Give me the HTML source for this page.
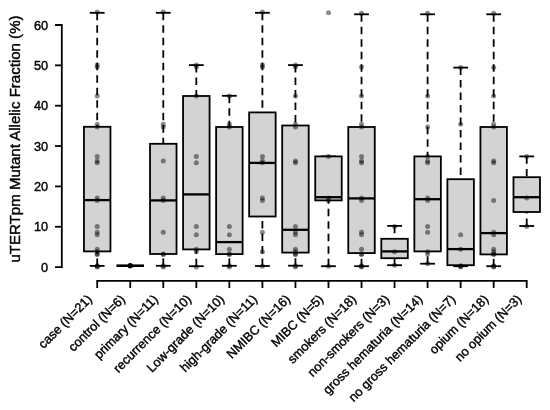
<!DOCTYPE html>
<html><head><meta charset="utf-8"><title>uTERTpm Mutant Allelic Fraction</title>
<style>html,body{margin:0;padding:0;background:#fff}svg{display:block}text{font-family:"Liberation Sans",sans-serif;fill:#000;stroke:#000;stroke-width:0.4px}</style></head><body>
<svg width="550" height="410" viewBox="0 0 550 410">
<rect width="550" height="410" fill="#fff"/>
<g transform="translate(0 0.4)">
<g fill="none" stroke="#000" stroke-width="1.8">
<line x1="97.20" y1="12.4" x2="97.20" y2="126.4" stroke-dasharray="7.4 5.1"/>
<line x1="97.20" y1="265.5" x2="97.20" y2="251.0" stroke-dasharray="7.4 5.1"/>
<line x1="89.80" y1="12.4" x2="104.60" y2="12.4"/>
<line x1="89.80" y1="265.5" x2="104.60" y2="265.5"/>
<rect x="83.95" y="126.4" width="26.50" height="124.60" fill="#d3d3d3"/>
<line x1="83.95" y1="199.7" x2="110.45" y2="199.7" stroke-width="2.3"/>
<line x1="116.44" y1="265.3" x2="144.04" y2="265.3" stroke-width="2.6"/>
<line x1="163.28" y1="12.4" x2="163.28" y2="143.4" stroke-dasharray="7.4 5.1"/>
<line x1="163.28" y1="265.4" x2="163.28" y2="253.6" stroke-dasharray="7.4 5.1"/>
<line x1="155.88" y1="12.4" x2="170.68" y2="12.4"/>
<line x1="155.88" y1="265.4" x2="170.68" y2="265.4"/>
<rect x="150.03" y="143.4" width="26.50" height="110.20" fill="#d3d3d3"/>
<line x1="150.03" y1="200.0" x2="176.53" y2="200.0" stroke-width="2.3"/>
<line x1="196.32" y1="64.7" x2="196.32" y2="95.6" stroke-dasharray="7.4 5.1"/>
<line x1="196.32" y1="265.8" x2="196.32" y2="249.0" stroke-dasharray="7.4 5.1"/>
<line x1="188.92" y1="64.7" x2="203.72" y2="64.7"/>
<line x1="188.92" y1="265.8" x2="203.72" y2="265.8"/>
<rect x="183.07" y="95.6" width="26.50" height="153.40" fill="#d3d3d3"/>
<line x1="183.07" y1="194.0" x2="209.57" y2="194.0" stroke-width="2.3"/>
<line x1="229.36" y1="95.4" x2="229.36" y2="126.6" stroke-dasharray="7.4 5.1"/>
<line x1="229.36" y1="265.4" x2="229.36" y2="253.7" stroke-dasharray="7.4 5.1"/>
<line x1="221.96" y1="95.4" x2="236.76" y2="95.4"/>
<line x1="221.96" y1="265.4" x2="236.76" y2="265.4"/>
<rect x="216.11" y="126.6" width="26.50" height="127.10" fill="#d3d3d3"/>
<line x1="216.11" y1="241.7" x2="242.61" y2="241.7" stroke-width="2.3"/>
<line x1="262.40" y1="12.4" x2="262.40" y2="112.0" stroke-dasharray="7.4 5.1"/>
<line x1="262.40" y1="265.6" x2="262.40" y2="216.1" stroke-dasharray="7.4 5.1"/>
<line x1="255.00" y1="12.4" x2="269.80" y2="12.4"/>
<line x1="255.00" y1="265.6" x2="269.80" y2="265.6"/>
<rect x="249.15" y="112.0" width="26.50" height="104.10" fill="#d3d3d3"/>
<line x1="249.15" y1="162.5" x2="275.65" y2="162.5" stroke-width="2.3"/>
<line x1="295.44" y1="64.7" x2="295.44" y2="125.1" stroke-dasharray="7.4 5.1"/>
<line x1="295.44" y1="265.3" x2="295.44" y2="252.2" stroke-dasharray="7.4 5.1"/>
<line x1="288.04" y1="64.7" x2="302.84" y2="64.7"/>
<line x1="288.04" y1="265.3" x2="302.84" y2="265.3"/>
<rect x="282.19" y="125.1" width="26.50" height="127.10" fill="#d3d3d3"/>
<line x1="282.19" y1="229.4" x2="308.69" y2="229.4" stroke-width="2.3"/>
<line x1="328.48" y1="265.8" x2="328.48" y2="200.0" stroke-dasharray="7.4 5.1"/>
<line x1="321.08" y1="156.0" x2="335.88" y2="156.0"/>
<line x1="321.08" y1="265.8" x2="335.88" y2="265.8"/>
<rect x="315.23" y="156.0" width="26.50" height="44.00" fill="#d3d3d3"/>
<line x1="315.23" y1="196.8" x2="341.73" y2="196.8" stroke-width="2.3"/>
<line x1="361.52" y1="13.9" x2="361.52" y2="126.6" stroke-dasharray="7.4 5.1"/>
<line x1="361.52" y1="265.8" x2="361.52" y2="252.7" stroke-dasharray="7.4 5.1"/>
<line x1="354.12" y1="13.9" x2="368.92" y2="13.9"/>
<line x1="354.12" y1="265.8" x2="368.92" y2="265.8"/>
<rect x="348.27" y="126.6" width="26.50" height="126.10" fill="#d3d3d3"/>
<line x1="348.27" y1="198.0" x2="374.77" y2="198.0" stroke-width="2.3"/>
<line x1="394.56" y1="225.5" x2="394.56" y2="238.4" stroke-dasharray="7.4 5.1"/>
<line x1="394.56" y1="264.8" x2="394.56" y2="257.8" stroke-dasharray="7.4 5.1"/>
<line x1="387.16" y1="225.5" x2="401.96" y2="225.5"/>
<line x1="387.16" y1="264.8" x2="401.96" y2="264.8"/>
<rect x="381.31" y="238.4" width="26.50" height="19.40" fill="#d3d3d3"/>
<line x1="381.31" y1="251.0" x2="407.81" y2="251.0" stroke-width="2.3"/>
<line x1="427.60" y1="13.9" x2="427.60" y2="156.0" stroke-dasharray="7.4 5.1"/>
<line x1="427.60" y1="263.3" x2="427.60" y2="251.0" stroke-dasharray="7.4 5.1"/>
<line x1="420.20" y1="13.9" x2="435.00" y2="13.9"/>
<line x1="420.20" y1="263.3" x2="435.00" y2="263.3"/>
<rect x="414.35" y="156.0" width="26.50" height="95.00" fill="#d3d3d3"/>
<line x1="414.35" y1="198.8" x2="440.85" y2="198.8" stroke-width="2.3"/>
<line x1="460.64" y1="67.2" x2="460.64" y2="178.8" stroke-dasharray="7.4 5.1"/>
<line x1="460.64" y1="265.8" x2="460.64" y2="264.8" stroke-dasharray="7.4 5.1"/>
<line x1="453.24" y1="67.2" x2="468.04" y2="67.2"/>
<line x1="453.24" y1="265.8" x2="468.04" y2="265.8"/>
<rect x="447.39" y="178.8" width="26.50" height="86.00" fill="#d3d3d3"/>
<line x1="447.39" y1="248.7" x2="473.89" y2="248.7" stroke-width="2.3"/>
<line x1="493.68" y1="13.9" x2="493.68" y2="126.6" stroke-dasharray="7.4 5.1"/>
<line x1="493.68" y1="265.8" x2="493.68" y2="254.0" stroke-dasharray="7.4 5.1"/>
<line x1="486.28" y1="13.9" x2="501.08" y2="13.9"/>
<line x1="486.28" y1="265.8" x2="501.08" y2="265.8"/>
<rect x="480.43" y="126.6" width="26.50" height="127.40" fill="#d3d3d3"/>
<line x1="480.43" y1="232.7" x2="506.93" y2="232.7" stroke-width="2.3"/>
<line x1="526.72" y1="156.0" x2="526.72" y2="176.8" stroke-dasharray="7.4 5.1"/>
<line x1="526.72" y1="225.6" x2="526.72" y2="211.6" stroke-dasharray="7.4 5.1"/>
<line x1="519.32" y1="156.0" x2="534.12" y2="156.0"/>
<line x1="519.32" y1="225.6" x2="534.12" y2="225.6"/>
<rect x="513.47" y="176.8" width="26.50" height="34.80" fill="#d3d3d3"/>
<line x1="513.47" y1="196.8" x2="539.97" y2="196.8" stroke-width="2.3"/>
</g>
<g fill="#000" fill-opacity="0.45">
<circle cx="97.20" cy="11.6" r="2.5"/>
<circle cx="97.20" cy="64.7" r="2.5"/>
<circle cx="97.20" cy="66.6" r="2.5"/>
<circle cx="97.20" cy="95.5" r="2.5"/>
<circle cx="97.20" cy="123.9" r="2.5"/>
<circle cx="97.20" cy="126.6" r="2.5"/>
<circle cx="97.20" cy="156.1" r="2.5"/>
<circle cx="97.20" cy="160.6" r="2.5"/>
<circle cx="97.20" cy="162.4" r="2.5"/>
<circle cx="97.20" cy="197.5" r="2.5"/>
<circle cx="97.20" cy="200.0" r="2.5"/>
<circle cx="97.20" cy="226.0" r="2.5"/>
<circle cx="97.20" cy="231.9" r="2.5"/>
<circle cx="97.20" cy="234.3" r="2.5"/>
<circle cx="97.20" cy="248.8" r="2.5"/>
<circle cx="97.20" cy="251.4" r="2.5"/>
<circle cx="97.20" cy="253.6" r="2.5"/>
<circle cx="97.20" cy="254.2" r="2.5"/>
<circle cx="97.20" cy="265.3" r="2.5"/>
<circle cx="97.20" cy="265.9" r="2.5"/>
<circle cx="97.20" cy="266.5" r="2.5"/>
<circle cx="130.24" cy="265.0" r="2.5"/>
<circle cx="130.24" cy="265.2" r="2.5"/>
<circle cx="130.24" cy="265.3" r="2.5"/>
<circle cx="130.24" cy="265.3" r="2.5"/>
<circle cx="130.24" cy="265.4" r="2.5"/>
<circle cx="130.24" cy="265.6" r="2.5"/>
<circle cx="163.28" cy="11.6" r="2.5"/>
<circle cx="163.28" cy="123.9" r="2.5"/>
<circle cx="163.28" cy="126.6" r="2.5"/>
<circle cx="163.28" cy="160.6" r="2.5"/>
<circle cx="163.28" cy="197.5" r="2.5"/>
<circle cx="163.28" cy="200.0" r="2.5"/>
<circle cx="163.28" cy="231.9" r="2.5"/>
<circle cx="163.28" cy="253.6" r="2.5"/>
<circle cx="163.28" cy="254.2" r="2.5"/>
<circle cx="163.28" cy="265.3" r="2.5"/>
<circle cx="163.28" cy="266.5" r="2.5"/>
<circle cx="196.32" cy="64.7" r="2.5"/>
<circle cx="196.32" cy="66.6" r="2.5"/>
<circle cx="196.32" cy="95.5" r="2.5"/>
<circle cx="196.32" cy="156.1" r="2.5"/>
<circle cx="196.32" cy="162.4" r="2.5"/>
<circle cx="196.32" cy="226.0" r="2.5"/>
<circle cx="196.32" cy="234.3" r="2.5"/>
<circle cx="196.32" cy="248.8" r="2.5"/>
<circle cx="196.32" cy="251.4" r="2.5"/>
<circle cx="196.32" cy="266.5" r="2.5"/>
<circle cx="229.36" cy="95.5" r="2.5"/>
<circle cx="229.36" cy="123.9" r="2.5"/>
<circle cx="229.36" cy="126.6" r="2.5"/>
<circle cx="229.36" cy="226.0" r="2.5"/>
<circle cx="229.36" cy="234.3" r="2.5"/>
<circle cx="229.36" cy="248.8" r="2.5"/>
<circle cx="229.36" cy="253.6" r="2.5"/>
<circle cx="229.36" cy="254.2" r="2.5"/>
<circle cx="229.36" cy="265.3" r="2.5"/>
<circle cx="229.36" cy="266.5" r="2.5"/>
<circle cx="262.40" cy="11.6" r="2.5"/>
<circle cx="262.40" cy="64.7" r="2.5"/>
<circle cx="262.40" cy="66.6" r="2.5"/>
<circle cx="262.40" cy="156.1" r="2.5"/>
<circle cx="262.40" cy="160.6" r="2.5"/>
<circle cx="262.40" cy="162.4" r="2.5"/>
<circle cx="262.40" cy="197.5" r="2.5"/>
<circle cx="262.40" cy="200.0" r="2.5"/>
<circle cx="262.40" cy="231.9" r="2.5"/>
<circle cx="262.40" cy="251.4" r="2.5"/>
<circle cx="262.40" cy="265.9" r="2.5"/>
<circle cx="295.44" cy="64.7" r="2.5"/>
<circle cx="295.44" cy="66.6" r="2.5"/>
<circle cx="295.44" cy="95.5" r="2.5"/>
<circle cx="295.44" cy="123.9" r="2.5"/>
<circle cx="295.44" cy="126.6" r="2.5"/>
<circle cx="295.44" cy="160.6" r="2.5"/>
<circle cx="295.44" cy="162.4" r="2.5"/>
<circle cx="295.44" cy="226.0" r="2.5"/>
<circle cx="295.44" cy="231.9" r="2.5"/>
<circle cx="295.44" cy="234.3" r="2.5"/>
<circle cx="295.44" cy="248.8" r="2.5"/>
<circle cx="295.44" cy="251.4" r="2.5"/>
<circle cx="295.44" cy="253.6" r="2.5"/>
<circle cx="295.44" cy="254.2" r="2.5"/>
<circle cx="295.44" cy="265.3" r="2.5"/>
<circle cx="295.44" cy="266.5" r="2.5"/>
<circle cx="328.48" cy="156.1" r="2.5"/>
<circle cx="328.48" cy="197.5" r="2.5"/>
<circle cx="328.48" cy="200.0" r="2.5"/>
<circle cx="328.48" cy="265.9" r="2.5"/>
<circle cx="328.48" cy="12.4" r="2.5"/>
<circle cx="361.52" cy="12.9" r="2.5"/>
<circle cx="361.52" cy="66.7" r="2.5"/>
<circle cx="361.52" cy="95.5" r="2.5"/>
<circle cx="361.52" cy="123.9" r="2.5"/>
<circle cx="361.52" cy="126.6" r="2.5"/>
<circle cx="361.52" cy="156.1" r="2.5"/>
<circle cx="361.52" cy="160.6" r="2.5"/>
<circle cx="361.52" cy="162.4" r="2.5"/>
<circle cx="361.52" cy="197.5" r="2.5"/>
<circle cx="361.52" cy="200.0" r="2.5"/>
<circle cx="361.52" cy="231.9" r="2.5"/>
<circle cx="361.52" cy="234.3" r="2.5"/>
<circle cx="361.52" cy="248.8" r="2.5"/>
<circle cx="361.52" cy="253.6" r="2.5"/>
<circle cx="361.52" cy="254.2" r="2.5"/>
<circle cx="361.52" cy="265.3" r="2.5"/>
<circle cx="361.52" cy="265.9" r="2.5"/>
<circle cx="361.52" cy="266.5" r="2.5"/>
<circle cx="394.56" cy="226.0" r="2.5"/>
<circle cx="394.56" cy="251.4" r="2.5"/>
<circle cx="394.56" cy="264.8" r="2.5"/>
<circle cx="427.60" cy="12.9" r="2.5"/>
<circle cx="427.60" cy="95.5" r="2.5"/>
<circle cx="427.60" cy="126.6" r="2.5"/>
<circle cx="427.60" cy="156.1" r="2.5"/>
<circle cx="427.60" cy="160.6" r="2.5"/>
<circle cx="427.60" cy="162.4" r="2.5"/>
<circle cx="427.60" cy="197.5" r="2.5"/>
<circle cx="427.60" cy="200.0" r="2.5"/>
<circle cx="427.60" cy="226.0" r="2.5"/>
<circle cx="427.60" cy="231.9" r="2.5"/>
<circle cx="427.60" cy="251.4" r="2.5"/>
<circle cx="427.60" cy="253.6" r="2.5"/>
<circle cx="427.60" cy="263.3" r="2.5"/>
<circle cx="460.64" cy="67.2" r="2.5"/>
<circle cx="460.64" cy="123.9" r="2.5"/>
<circle cx="460.64" cy="234.3" r="2.5"/>
<circle cx="460.64" cy="248.8" r="2.5"/>
<circle cx="460.64" cy="265.3" r="2.5"/>
<circle cx="460.64" cy="265.9" r="2.5"/>
<circle cx="460.64" cy="266.5" r="2.5"/>
<circle cx="493.68" cy="12.9" r="2.5"/>
<circle cx="493.68" cy="67.0" r="2.5"/>
<circle cx="493.68" cy="95.5" r="2.5"/>
<circle cx="493.68" cy="123.9" r="2.5"/>
<circle cx="493.68" cy="126.6" r="2.5"/>
<circle cx="493.68" cy="160.6" r="2.5"/>
<circle cx="493.68" cy="162.4" r="2.5"/>
<circle cx="493.68" cy="200.0" r="2.5"/>
<circle cx="493.68" cy="231.9" r="2.5"/>
<circle cx="493.68" cy="234.3" r="2.5"/>
<circle cx="493.68" cy="248.8" r="2.5"/>
<circle cx="493.68" cy="251.4" r="2.5"/>
<circle cx="493.68" cy="253.6" r="2.5"/>
<circle cx="493.68" cy="254.2" r="2.5"/>
<circle cx="493.68" cy="265.3" r="2.5"/>
<circle cx="493.68" cy="265.9" r="2.5"/>
<circle cx="493.68" cy="266.5" r="2.5"/>
<circle cx="526.72" cy="156.1" r="2.5"/>
<circle cx="526.72" cy="197.5" r="2.5"/>
<circle cx="526.72" cy="226.0" r="2.5"/>
</g>
<g fill="none" stroke="#000" stroke-width="1.8">
<path d="M55 266.70H61.8V24.60H55"/>
<line x1="55" y1="226.35" x2="61.8" y2="226.35"/>
<line x1="55" y1="186.00" x2="61.8" y2="186.00"/>
<line x1="55" y1="145.65" x2="61.8" y2="145.65"/>
<line x1="55" y1="105.30" x2="61.8" y2="105.30"/>
<line x1="55" y1="64.95" x2="61.8" y2="64.95"/>
<path d="M97.20 287.6V280.4H526.72V287.6"/>
<line x1="130.24" y1="280.4" x2="130.24" y2="287.6"/>
<line x1="163.28" y1="280.4" x2="163.28" y2="287.6"/>
<line x1="196.32" y1="280.4" x2="196.32" y2="287.6"/>
<line x1="229.36" y1="280.4" x2="229.36" y2="287.6"/>
<line x1="262.40" y1="280.4" x2="262.40" y2="287.6"/>
<line x1="295.44" y1="280.4" x2="295.44" y2="287.6"/>
<line x1="328.48" y1="280.4" x2="328.48" y2="287.6"/>
<line x1="361.52" y1="280.4" x2="361.52" y2="287.6"/>
<line x1="394.56" y1="280.4" x2="394.56" y2="287.6"/>
<line x1="427.60" y1="280.4" x2="427.60" y2="287.6"/>
<line x1="460.64" y1="280.4" x2="460.64" y2="287.6"/>
<line x1="493.68" y1="280.4" x2="493.68" y2="287.6"/>
</g>
</g>
<g font-size="12.76" text-anchor="end">
<text x="48.2" y="271.70">0</text>
<text x="48.2" y="231.35">10</text>
<text x="48.2" y="191.00">20</text>
<text x="48.2" y="150.65">30</text>
<text x="48.2" y="110.30">40</text>
<text x="48.2" y="69.95">50</text>
<text x="48.2" y="29.60">60</text>
</g>
<text transform="translate(19.5 139) rotate(-90)" font-size="14" text-anchor="middle" textLength="247" lengthAdjust="spacingAndGlyphs">uTERTpm Mutant Allelic Fraction (%)</text>
<g font-size="12.76" text-anchor="end">
<text transform="translate(89.60 296.8) rotate(-45)" dy="4.5">case (N=21)</text>
<text transform="translate(122.64 296.8) rotate(-45)" dy="4.5">control (N=6)</text>
<text transform="translate(155.68 296.8) rotate(-45)" dy="4.5">primary (N=11)</text>
<text transform="translate(188.72 296.8) rotate(-45)" dy="4.5">recurrence (N=10)</text>
<text transform="translate(221.76 296.8) rotate(-45)" dy="4.5">Low-grade (N=10)</text>
<text transform="translate(254.80 296.8) rotate(-45)" dy="4.5">high-grade (N=11)</text>
<text transform="translate(287.84 296.8) rotate(-45)" dy="4.5">NMIBC (N=16)</text>
<text transform="translate(320.88 296.8) rotate(-45)" dy="4.5">MIBC (N=5)</text>
<text transform="translate(353.92 296.8) rotate(-45)" dy="4.5">smokers (N=18)</text>
<text transform="translate(386.96 296.8) rotate(-45)" dy="4.5">non-smokers (N=3)</text>
<text transform="translate(420.00 296.8) rotate(-45)" dy="4.5">gross hematuria (N=14)</text>
<text transform="translate(453.04 296.8) rotate(-45)" dy="4.5">no gross hematuria (N=7)</text>
<text transform="translate(486.08 296.8) rotate(-45)" dy="4.5">opium (N=18)</text>
<text transform="translate(519.12 296.8) rotate(-45)" dy="4.5">no opium (N=3)</text>
</g>
</svg></body></html>
